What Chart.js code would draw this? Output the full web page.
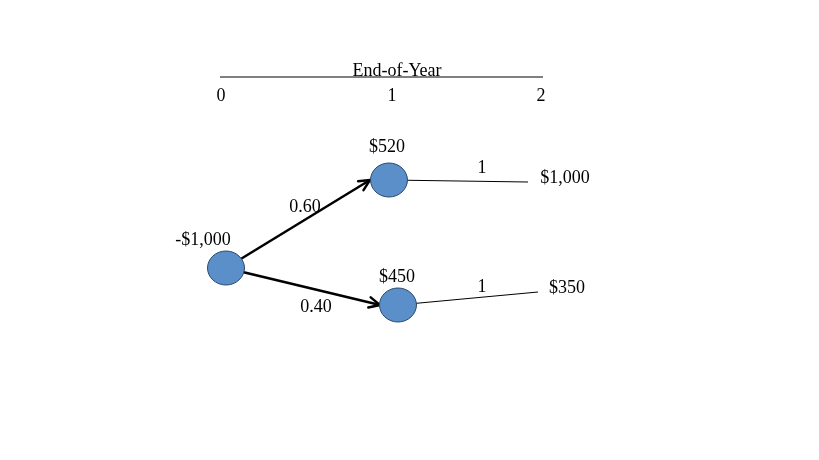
<!DOCTYPE html>
<html><head><meta charset="utf-8">
<script src="https://cdn.jsdelivr.net/npm/chart.js@4/dist/chart.umd.min.js"></script>
<style>html,body{margin:0;padding:0;background:#fff}</style>
</head><body>
<canvas id="c" width="819" height="460"></canvas>
<script>
// Tree structure
const nodeNames = ["start", "up", "down"];
const nodeValues = ["-$1,000", "$520", "$450"];
const branchProbs = ["0.60", "0.40"];
const year2Probs = ["1", "1"];
const endValues = ["$1,000", "$350"];
const yearTicks = ["0", "1", "2"];
const axisTitle = "End-of-Year";

// layout (diagram coordinates)
const nodePos = [[226,268],[389,180],[398,305]];
const endPos = [[528,182],[538,292]];
const arrowEnd = [[370,180],[380,305]];
const tickPos = [[221,96],[392,96],[541,96]];
const valLabelPos = [[203,240],[387,147],[397,277]];
const probPos = [[305,207],[316,307]];
const y2ProbPos = [[482,168],[482,287]];
const endLabelPos = [[565,178],[567,288]];

const P = a => ({x:a[0], y:a[1]});
const datasets = [
  {data:[{x:220,y:77},{x:543,y:77}], showLine:true, borderColor:'#000', borderWidth:1, pointRadius:0},
  {data:[P(nodePos[0]),P(arrowEnd[0])], showLine:true, borderColor:'#000', borderWidth:2.5, pointRadius:0},
  {data:[P(nodePos[0]),P(arrowEnd[1])], showLine:true, borderColor:'#000', borderWidth:2.5, pointRadius:0},
  {data:[P(nodePos[1]),P(endPos[0])], showLine:true, borderColor:'#000', borderWidth:1, pointRadius:0},
  {data:[P(nodePos[2]),P(endPos[1])], showLine:true, borderColor:'#000', borderWidth:1, pointRadius:0},
];
const deco = {
  id:'deco',
  afterDatasetsDraw(chart){
    const ctx = chart.ctx, xs = chart.scales.x, ys = chart.scales.y;
    const X = v => xs.getPixelForValue(v), Y = v => ys.getPixelForValue(v);
    ctx.save();
    // arrowheads
    for (let i=0;i<2;i++){
      const x0=X(nodePos[0][0]), y0=Y(nodePos[0][1]), x1=X(arrowEnd[i][0]), y1=Y(arrowEnd[i][1]);
      const a=Math.atan2(y1-y0,x1-x0), L=12;
      ctx.strokeStyle='#000'; ctx.lineWidth=2.5; ctx.lineCap='round';
      ctx.beginPath();
      ctx.moveTo(x1-L*Math.cos(a-0.45), y1-L*Math.sin(a-0.45));
      ctx.lineTo(x1,y1);
      ctx.lineTo(x1-L*Math.cos(a+0.45), y1-L*Math.sin(a+0.45));
      ctx.stroke();
    }
    // nodes
    nodePos.forEach(p=>{
      ctx.beginPath();
      ctx.ellipse(X(p[0]),Y(p[1]),18.5,17,0,0,Math.PI*2);
      ctx.fillStyle='#5b8fca'; ctx.fill();
      ctx.strokeStyle='#2c4a6e'; ctx.lineWidth=1; ctx.stroke();
    });
    ctx.fillStyle='#000'; ctx.font='18px "Liberation Serif", "Times New Roman", serif';
    ctx.textAlign='center'; ctx.textBaseline='middle';
    const put=(t,p)=>ctx.fillText(t,X(p[0]),Y(p[1]));
    put(axisTitle,[397,71]);
    yearTicks.forEach((t,i)=>put(t,tickPos[i]));
    nodeValues.forEach((t,i)=>put(t,valLabelPos[i]));
    branchProbs.forEach((t,i)=>put(t,probPos[i]));
    year2Probs.forEach((t,i)=>put(t,y2ProbPos[i]));
    endValues.forEach((t,i)=>put(t,endLabelPos[i]));
    ctx.restore();
  }
};
new Chart(document.getElementById('c'), {
  type:'scatter',
  data:{datasets},
  options:{
    responsive:false, animation:false,
    layout:{padding:0},
    plugins:{legend:{display:false}, tooltip:{enabled:false}},
    scales:{
      x:{type:'linear',min:0,max:819,display:false},
      y:{type:'linear',min:0,max:460,reverse:true,display:false}
    }
  },
  plugins:[deco]
});
</script>
</body></html>
